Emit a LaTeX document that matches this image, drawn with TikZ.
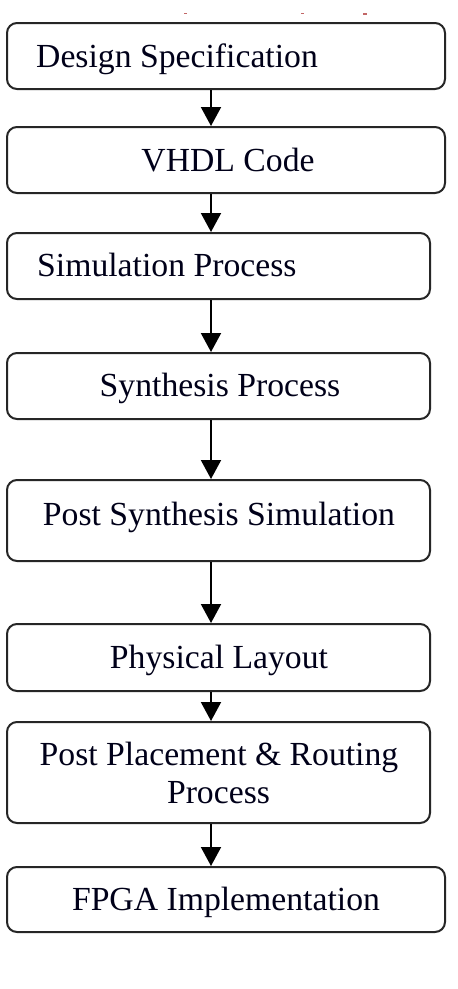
\documentclass[tikz,border=0pt]{standalone}
\usepackage{fontspec}
\setmainfont{Liberation Serif}
\usetikzlibrary{arrows.meta}
\begin{document}
\begin{tikzpicture}[x=1pt,y=1pt,
  stepbox/.style={draw=black!85, line width=2pt, rounded corners=10pt,
    inner sep=0pt, minimum width=#1},
  stepbox/.default=423pt,
  label/.style={inner sep=0pt, font=\fontsize{33.7}{38}\selectfont, text=black!90!blue},
  arr/.style={line width=2pt, -{Triangle[width=20pt,length=19pt]}},
  redmark/.style={fill=red!60!black!60, draw=none}]
\useasboundingbox (0,0) rectangle (458,-989);
\fill[white] (0,0) rectangle (458,-989);
\coordinate (ax) at (211,0);
% small red marks at top
\fill[redmark] (183.5,-13) rectangle (186.5,-14);
\fill[redmark] (300.5,-13) rectangle (303.5,-14);
\fill[redmark] (363,-12.5) rectangle (367,-14.5);
% boxes
\node[stepbox=438pt, minimum height=66pt] (b1) at (226,-56) {};
\node[stepbox=438pt, minimum height=66pt] (b2) at (226,-160) {};
\node[stepbox, minimum height=66pt] (b3) at (218.5,-266) {};
\node[stepbox, minimum height=66pt] (b4) at (218.5,-386) {};
\node[stepbox, minimum height=81pt] (b5) at (218.5,-520.5) {};
\node[stepbox, minimum height=67pt] (b6) at (218.5,-657.5) {};
\node[stepbox, minimum height=101pt] (b7) at (218.5,-772.5) {};
\node[stepbox=438pt, minimum height=65pt] (b8) at (226,-899.5) {};
% texts
\node[label, anchor=base west] (t1) at (36,-67) {Design Specification};
\node[label, anchor=base] (t2) at (228,-171) {VHDL Code};
\node[label, anchor=base west] (t3) at (37,-276) {Simulation Process};
\node[label, anchor=base] (t4) at (220,-396) {Synthesis Process};
\node[label, anchor=base] (t5) at (219,-525) {Post Synthesis Simulation};
\node[label, anchor=base] (t6) at (219,-668) {Physical Layout};
\node[label, anchor=base] (t7a) at (219,-765) {Post Placement \& Routing};
\node[label, anchor=base] (t7b) at (218.5,-803) {Process};
\node[label, anchor=base] (t8) at (226,-910) {FPGA Implementation};
% arrows
\draw[arr] (b1.south -| ax) -- (b2.north -| ax);
\draw[arr] (b2.south -| ax) -- (b3.north -| ax);
\draw[arr] (b3.south -| ax) -- (b4.north -| ax);
\draw[arr] (b4.south -| ax) -- (b5.north -| ax);
\draw[arr] (b5.south -| ax) -- (b6.north -| ax);
\draw[arr] (b6.south -| ax) -- (b7.north -| ax);
\draw[arr] (b7.south -| ax) -- (b8.north -| ax);
\end{tikzpicture}
\end{document}
